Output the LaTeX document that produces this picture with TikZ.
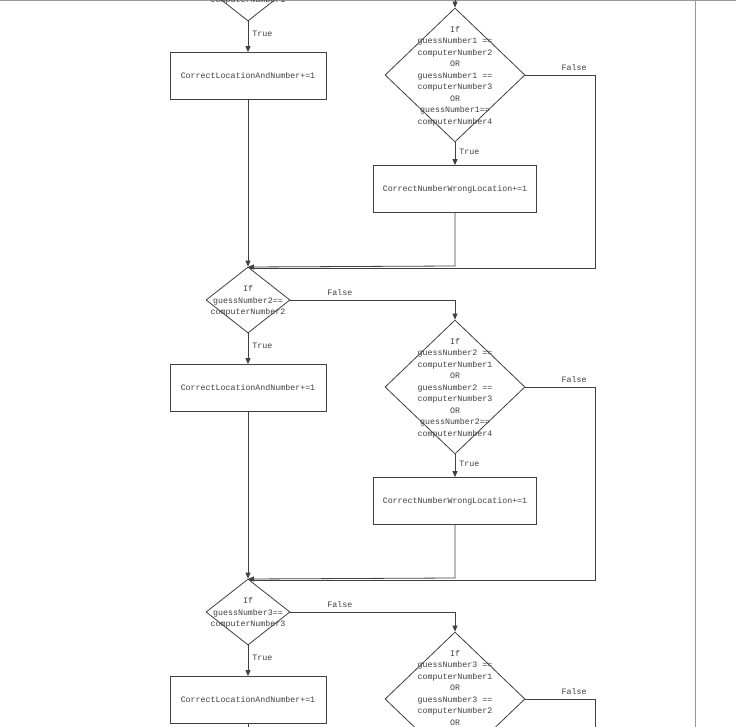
\documentclass[tikz,border=0pt]{standalone}
\usepackage{fontspec}
\setmonofont{Liberation Mono}
\usetikzlibrary{shapes.geometric,arrows.meta}
\begin{document}
\begin{tikzpicture}[x=1pt,y=-1pt,
  lbl/.style={font=\ttfamily\fontsize{8.3}{11.5}\selectfont,text=black!75,align=center,inner sep=0},
  boxn/.style={draw=black!75,line width=0.8pt,minimum width=156pt,minimum height=47pt,inner sep=0,font=\ttfamily\fontsize{8.3}{10}\selectfont,text=black!75},
  boxr/.style={boxn,minimum width=163pt},
  dia/.style={diamond,draw=black!75,line width=0.8pt,inner sep=0,shape aspect=1},
  conn/.style={draw=black!75,line width=0.8pt},
  arr/.style={conn,-{Triangle[length=6pt,width=5pt]}}]
\useasboundingbox (0,0) rectangle (736,727);
\fill[white] (0,0) rectangle (736,727);
\clip (0,0) rectangle (736,727);
\draw[black!40,line width=1pt] (0,0.5) -- (736,0.5);
\draw[black!40,line width=1pt] (695,0) -- (695,727);
\foreach \k/\g in {0/1,1/2,2/3}{
  \pgfmathsetmacro{\o}{\k*312}
  \begin{scope}[yshift=-\o pt]
  \node[dia,minimum width=84pt,minimum height=66pt] (d\k) at (248,-12) {};
  \node[lbl] (dt\k) at (248,-11) {If\\guessNumber\g==\\computerNumber\g};
  \node[boxn] (l\k) at (248,76) {CorrectLocationAndNumber+=1};
  \node[dia,minimum width=140pt,minimum height=134pt] (r\k) at (455,75) {};
  \ifnum\k=0
  \node[lbl] (rt\k) at (455,76) {If\\guessNumber1 ==\\computerNumber2\\OR\\guessNumber1 ==\\computerNumber3\\OR\\guessNumber1==\\computerNumber4};
  \fi
  \ifnum\k=1
  \node[lbl] (rt\k) at (455,76) {If\\guessNumber2 ==\\computerNumber1\\OR\\guessNumber2 ==\\computerNumber3\\OR\\guessNumber2==\\computerNumber4};
  \fi
  \ifnum\k=2
  \node[lbl] (rt\k) at (455,76) {If\\guessNumber3 ==\\computerNumber1\\OR\\guessNumber3 ==\\computerNumber2\\OR\\guessNumber3==\\computerNumber4};
  \fi
  \node[boxr] (b\k) at (455,189) {CorrectNumberWrongLocation+=1};
  \coordinate (m\k) at (248,267);
  \draw[arr] (d\k.south) -- node[lbl,right=4pt,pos=0.4]{True} (l\k.north);
  \draw[arr] (d\k.east) -- node[lbl,above=4pt,pos=0.3]{False} (d\k.east -| r\k.north) -- (r\k.north);
  \draw[arr] (r\k.south) -- node[lbl,right=4pt,pos=0.4]{True} (b\k.north);
  \draw[conn] (r\k.east) -- node[lbl,above=4pt,pos=0.7]{False} (595,75) -- (595,268) -- (250,268);
  \draw[arr] (b\k.south) -- (455,266) -- (m\k);
  \end{scope}
}
\draw[arr] (l0.south) -- (d1.north);
\draw[arr] (l1.south) -- (d2.north);
\draw[conn] (l2.south) -- (248,740);
\end{tikzpicture}
\end{document}
